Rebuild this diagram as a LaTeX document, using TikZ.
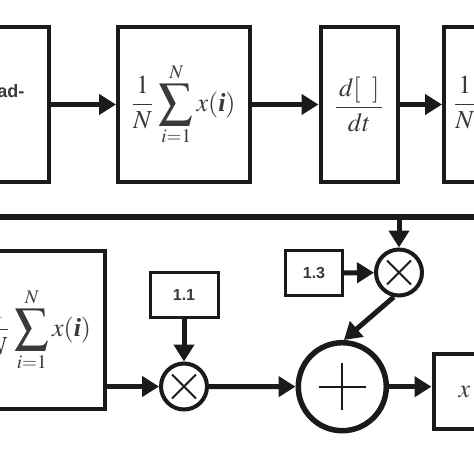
\documentclass[tikz,border=0pt]{standalone}
\usepackage{mathptmx}
\usepackage{fontspec}
\setmainfont{Liberation Serif}
\newfontfamily\labfont{Liberation Sans}
\usetikzlibrary{arrows.meta}
\definecolor{ink}{HTML}{1A1A1A}
\definecolor{txt}{HTML}{3A3A3A}
\newcommand{\bigsum}{\mathop{\vcenter{\hbox{\scalebox{1.3}{$\displaystyle\sum$}}}}\limits}
\newcommand{\avgx}{$\displaystyle\frac{1}{N}\,\bigsum_{i=1}^{N}x(\textbf{\textit{i}})$}
\begin{document}
\begin{tikzpicture}[x=1pt,y=-1pt,
  bigbox/.style={draw=ink, line width=4pt, rectangle, inner sep=0pt},
  smallbox/.style={draw=ink, line width=3pt, rectangle, inner sep=0pt, font=\labfont\bfseries\fontsize{16}{19}\selectfont, text=txt},
  op/.style={draw=ink, line width=4pt, circle, inner sep=0pt, minimum size=46pt},
  sumop/.style={draw=ink, line width=5.5pt, circle, inner sep=0pt, minimum size=88pt},
  arr/.style={draw=ink, line width=5pt, -{Triangle[length=17pt,width=20pt]}},
  mathtxt/.style={font=\fontsize{26}{30}\selectfont, text=txt},
  sign/.style={draw=ink, line width=1.8pt}]
\useasboundingbox (0,0) rectangle (474,474);
\fill[white] (0,0) rectangle (474,474);
\clip (0,0) rectangle (474,474);

% top row
\node[bigbox, minimum width=109pt, minimum height=155pt] (b1) at (-5.5,104.5) {};
\node[anchor=base east, font=\labfont\bfseries\fontsize{18}{21}\selectfont, text=txt] (b1txt) at (28,97) {ad-};
\node[bigbox, mathtxt, minimum width=131.5pt, minimum height=155pt] (b2) at (183.75,104.5) {\avgx};
\node[bigbox, mathtxt, minimum width=77.5pt, minimum height=155pt] (b3) at (359.25,104.5) {$\displaystyle\frac{\,d[\;\;]\,}{dt}$};
\node[bigbox, mathtxt, minimum width=124pt, minimum height=155pt] (b4) at (506,104.5) {\avgx};

\draw[arr] (b1) -- (b2);
\draw[arr] (b2) -- (b3);
\draw[arr] (b3) -- (b4);

% feedback bar
\coordinate (barL) at (-10,217);
\coordinate (barR) at (490,217);
\coordinate (tap) at (399,217);
\draw[draw=ink, line width=6pt] (barL) -- (barR);

% bottom row
\node[bigbox, mathtxt, minimum width=131.5pt, minimum height=158.5pt] (bl) at (39.25,329.75) {\avgx};
\node[op] (m1) at (399,272.5) {};
\node[smallbox, minimum width=57pt, minimum height=45pt] (b13) at (314,273) {1.3};
\node[op] (m2) at (184,386.5) {};
\node[smallbox, minimum width=68pt, minimum height=45pt] (b11) at (184,295) {1.1};
\node[sumop] (plus) at (342.3,386.7) {};
\node[bigbox, minimum width=126.5pt, minimum height=75.5pt] (out) at (496.75,391.25) {};
\node[anchor=base west, mathtxt] (outtxt) at (455,397) {$x$};

% signs
\draw[sign] ([shift={(-12,-12)}]m1.center) -- ([shift={(12,12)}]m1.center);
\draw[sign] ([shift={(-12,12)}]m1.center) -- ([shift={(12,-12)}]m1.center);
\draw[sign] ([shift={(-12,-12)}]m2.center) -- ([shift={(12,12)}]m2.center);
\draw[sign] ([shift={(-12,12)}]m2.center) -- ([shift={(12,-12)}]m2.center);
\draw[sign] ([shift={(-23.5,0)}]plus.center) -- ([shift={(23.5,0)}]plus.center);
\draw[sign] ([shift={(0,-23.5)}]plus.center) -- ([shift={(0,23.5)}]plus.center);

% connectors
\draw[arr] (tap) -- (m1);
\draw[arr] (b13) -- (m1);
\draw[arr] (m1.258) -- (plus.88);
\draw[arr] (b11) -- (m2);
\draw[arr] (bl.east |- m2) -- (m2);
\draw[arr] (m2) -- (plus);
\draw[arr] (plus.east) -- (plus.east -| out.west);
\end{tikzpicture}
\end{document}
